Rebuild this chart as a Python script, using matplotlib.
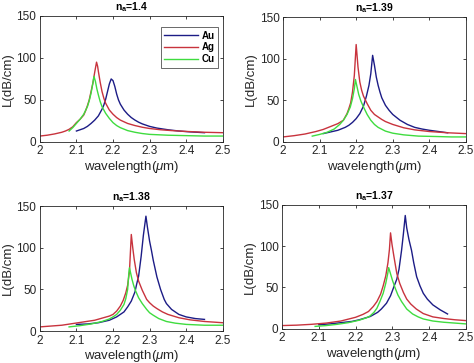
import matplotlib
matplotlib.use("Agg")
import matplotlib.pyplot as plt

plt.rcParams['font.family'] = ['Liberation Sans', 'DejaVu Sans']
plt.rcParams['mathtext.fontset'] = 'custom'
plt.rcParams['mathtext.rm'] = 'Liberation Sans'
plt.rcParams['mathtext.it'] = 'Liberation Sans:italic'
plt.rcParams['mathtext.bf'] = 'Liberation Sans:bold'

# valores (4 paineis, n_a = 1.4, 1.39, 1.38, 1.37)
titulos = ['1.4', '1.39', '1.38', '1.37']

# n_a = 1.4
au1_x = [2.10, 2.11, 2.12, 2.13, 2.14, 2.15, 2.16, 2.17, 2.175, 2.18, 2.185, 2.19, 2.195, 2.20, 2.205, 2.21, 2.215,
         2.22, 2.23, 2.24, 2.25, 2.26, 2.27, 2.28, 2.30, 2.32, 2.35, 2.38, 2.41, 2.45]
au1_y = [13, 14.5, 16, 18.5, 22, 26, 31, 39, 44, 51, 60, 69, 75, 73, 66, 57, 50,
         45, 38, 33, 29, 26, 23.5, 21.5, 18.5, 16.5, 14.5, 13, 12, 11]
ag1_x = [2.00, 2.02, 2.04, 2.06, 2.07, 2.08, 2.09, 2.10, 2.11, 2.12, 2.125, 2.13, 2.135, 2.14, 2.145, 2.15, 2.155,
         2.158, 2.16, 2.165, 2.17, 2.175, 2.18, 2.19, 2.20, 2.21, 2.22, 2.24, 2.26, 2.28, 2.30, 2.33, 2.36, 2.40,
         2.45, 2.50]
ag1_y = [7, 8, 9.5, 11.5, 13, 15, 18, 23, 27, 32, 37, 43, 50, 60, 70, 83, 95,
         90, 84, 71, 60, 52, 46, 38, 33, 29, 26, 22, 19.5, 17.5, 16, 14.5, 13.5, 12.5,
         11.5, 11]
cu1_x = [2.08, 2.09, 2.10, 2.11, 2.12, 2.13, 2.135, 2.14, 2.145, 2.148, 2.152, 2.156, 2.16, 2.165, 2.17, 2.18, 2.19,
         2.20, 2.21, 2.22, 2.24, 2.26, 2.28, 2.30, 2.35, 2.40, 2.45, 2.50]
cu1_y = [13, 17, 22, 27, 33, 42, 49, 58, 70, 78, 72, 63, 56, 48, 42, 34, 28,
         23, 19.5, 17, 13.5, 11.5, 10, 9, 8, 7.5, 7, 7]

# n_a = 1.39
au2_x = [2.11, 2.13, 2.15, 2.17, 2.18, 2.19, 2.20, 2.21, 2.22, 2.228, 2.235, 2.24, 2.245, 2.25, 2.255, 2.26, 2.265,
         2.27, 2.28, 2.29, 2.30, 2.32, 2.34, 2.36, 2.38, 2.40, 2.425, 2.45]
au2_y = [10, 12, 14, 17.5, 20, 23.5, 28, 34, 43, 55, 68, 82, 104, 92, 78, 68, 60,
         53, 44, 38, 33, 26, 21, 17.5, 15.5, 14, 12.5, 11]
ag2_x = [2.00, 2.03, 2.06, 2.09, 2.11, 2.13, 2.15, 2.165, 2.175, 2.18, 2.185, 2.19, 2.195, 2.20, 2.205, 2.21, 2.215,
         2.22, 2.23, 2.235, 2.24, 2.25, 2.26, 2.27, 2.28, 2.30, 2.33, 2.36, 2.40, 2.45, 2.50]
ag2_y = [6, 7.5, 9.5, 12.5, 15, 18.5, 22, 26, 34, 40, 47, 60, 80, 117, 90, 72, 62,
         55, 46, 42, 38, 33, 30, 27, 24.5, 21, 17, 14.5, 12.5, 11, 10]
cu2_x = [2.08, 2.10, 2.12, 2.14, 2.155, 2.165, 2.175, 2.184, 2.19, 2.195, 2.198, 2.202, 2.207, 2.213, 2.22, 2.23,
         2.24, 2.25, 2.26, 2.28, 2.30, 2.33, 2.37, 2.42, 2.46, 2.50]
cu2_y = [7, 9, 11.5, 15.5, 21, 26, 33, 42, 52, 64, 75, 67, 57, 49, 42, 33,
         26, 21, 17.5, 13, 10.5, 8.5, 7, 6.5, 6, 6]

# n_a = 1.38
au3_x = [2.10, 2.13, 2.16, 2.19, 2.21, 2.23, 2.24, 2.25, 2.26, 2.265, 2.27, 2.277, 2.283, 2.29, 2.294, 2.30, 2.305,
         2.31, 2.32, 2.33, 2.34, 2.346, 2.36, 2.38, 2.40, 2.425, 2.45]
au3_y = [8, 8.5, 10, 13, 17, 23, 29, 36, 47, 57, 66, 90, 115, 138, 125, 108, 97,
         85, 65, 50, 38, 33, 26, 20, 17, 15, 14]
ag3_x = [2.00, 2.03, 2.06, 2.09, 2.12, 2.15, 2.17, 2.19, 2.20, 2.21, 2.22, 2.228, 2.235, 2.24, 2.245, 2.25, 2.254,
         2.258, 2.264, 2.27, 2.28, 2.292, 2.30, 2.31, 2.32, 2.335, 2.35, 2.38, 2.41, 2.45, 2.50]
ag3_y = [5, 6, 7, 9, 11, 13, 15.5, 18, 20, 24, 30, 37, 46, 55, 72, 116, 100,
         86, 70, 60, 49, 38, 34, 30, 27, 23, 20, 16, 13.5, 11.5, 10]
cu3_x = [2.08, 2.11, 2.14, 2.17, 2.19, 2.20, 2.21, 2.22, 2.23, 2.235, 2.24, 2.243, 2.245, 2.248, 2.252, 2.257, 2.262,
         2.27, 2.28, 2.292, 2.30, 2.31, 2.325, 2.346, 2.37, 2.40, 2.45, 2.50]
cu3_y = [5, 6.5, 8.5, 11.5, 14.5, 17, 20, 25, 32, 39, 50, 68, 76, 70, 62, 54, 48,
         40, 33, 26, 22, 19, 15, 11.5, 9.5, 8, 7, 7]

# n_a = 1.37
au4_x = [2.10, 2.13, 2.16, 2.19, 2.21, 2.24, 2.26, 2.27, 2.284, 2.295, 2.30, 2.305, 2.312, 2.318, 2.325, 2.33, 2.335,
         2.339, 2.345, 2.352, 2.358, 2.366, 2.375, 2.384, 2.395, 2.41, 2.43, 2.45]
au4_y = [5, 6, 7.5, 9, 11, 15, 20, 24, 31, 40, 46, 52, 60, 72, 95, 115, 137,
         122, 108, 95, 80, 63, 52, 43, 36, 29, 23, 18]
ag4_x = [2.00, 2.04, 2.08, 2.12, 2.16, 2.20, 2.22, 2.235, 2.248, 2.258, 2.268, 2.275, 2.282, 2.288, 2.292, 2.295,
         2.299, 2.304, 2.312, 2.32, 2.33, 2.339, 2.35, 2.365, 2.384, 2.41, 2.44, 2.47, 2.50]
ag4_y = [4, 4.5, 5.5, 7, 9.5, 14, 17.5, 21, 27, 33, 42, 52, 64, 80, 96, 116,
         102, 88, 67, 55, 44, 36, 30, 24, 18.5, 14.5, 12.5, 11, 10]
cu4_x = [2.09, 2.12, 2.15, 2.18, 2.21, 2.23, 2.239, 2.25, 2.258, 2.266, 2.275, 2.282, 2.287, 2.29, 2.294, 2.30,
         2.307, 2.315, 2.325, 2.339, 2.355, 2.37, 2.384, 2.41, 2.44, 2.47, 2.50]
cu4_y = [3, 4, 5.5, 7.5, 10.5, 13.5, 15.5, 20, 25, 33, 43, 55, 66, 74, 68, 59,
         50, 41, 33, 24, 18, 14.5, 12, 9.5, 8, 7, 6]

paineis = [
    ((au1_x, au1_y), (ag1_x, ag1_y), (cu1_x, cu1_y)),
    ((au2_x, au2_y), (ag2_x, ag2_y), (cu2_x, cu2_y)),
    ((au3_x, au3_y), (ag3_x, ag3_y), (cu3_x, cu3_y)),
    ((au4_x, au4_y), (ag4_x, ag4_y), (cu4_x, cu4_y)),
]
nomes = ['Au', 'Ag', 'Cu']
cores = ['#1c1c86', '#c8333d', '#3fdc3f']

# posicoes dos eixos (em fracao da figura)
posicoes = [
    [0.084, 0.609, 0.386, 0.347],
    [0.597, 0.609, 0.386, 0.344],
    [0.084, 0.088, 0.386, 0.344],
    [0.595, 0.094, 0.388, 0.342],
]

fig = plt.figure(figsize=(4.74, 3.63), dpi=100)

for i, (curvas, pos) in enumerate(zip(paineis, posicoes)):
    ax = fig.add_axes(pos)
    for (x, y), nome, cor in zip(curvas, nomes, cores):
        ax.plot(x, y, color=cor, linewidth=1.0, label=nome)
    ax.set_xlim(2, 2.5)
    ax.set_ylim(0, 150)
    ax.set_xticks([2, 2.1, 2.2, 2.3, 2.4, 2.5])
    ax.set_xticklabels(['2', '2.1', '2.2', '2.3', '2.4', '2.5'])
    ax.set_yticks([0, 50, 100, 150])
    ax.tick_params(direction='in', length=2.5, width=0.6, labelsize=8.5,
                   colors='#262626', top=True, right=True, pad=2.5)
    for s in ax.spines.values():
        s.set_color('#262626')
        s.set_linewidth(0.6)
    ax.set_xlabel(r'wavelength($\mu$m)', fontsize=9.5, color='#262626', labelpad=1)
    ax.set_ylabel('L(dB/cm)', fontsize=9.5, color='#262626', labelpad=2)
    ax.set_title(r'n$_\mathbf{a}$=' + titulos[i], fontsize=7.5, fontweight='bold', pad=4)
    if i == 0:
        leg = ax.legend(loc='upper right', fontsize=7, frameon=True, fancybox=False,
                        handlelength=3.4, borderpad=0.35, labelspacing=0.2,
                        handletextpad=0.4, bbox_to_anchor=(1.0, 0.95))
        leg.get_frame().set_edgecolor('#262626')
        leg.get_frame().set_linewidth(0.6)
        for t in leg.get_texts():
            t.set_fontweight('bold')

fig.savefig('out.png', dpi=100)
